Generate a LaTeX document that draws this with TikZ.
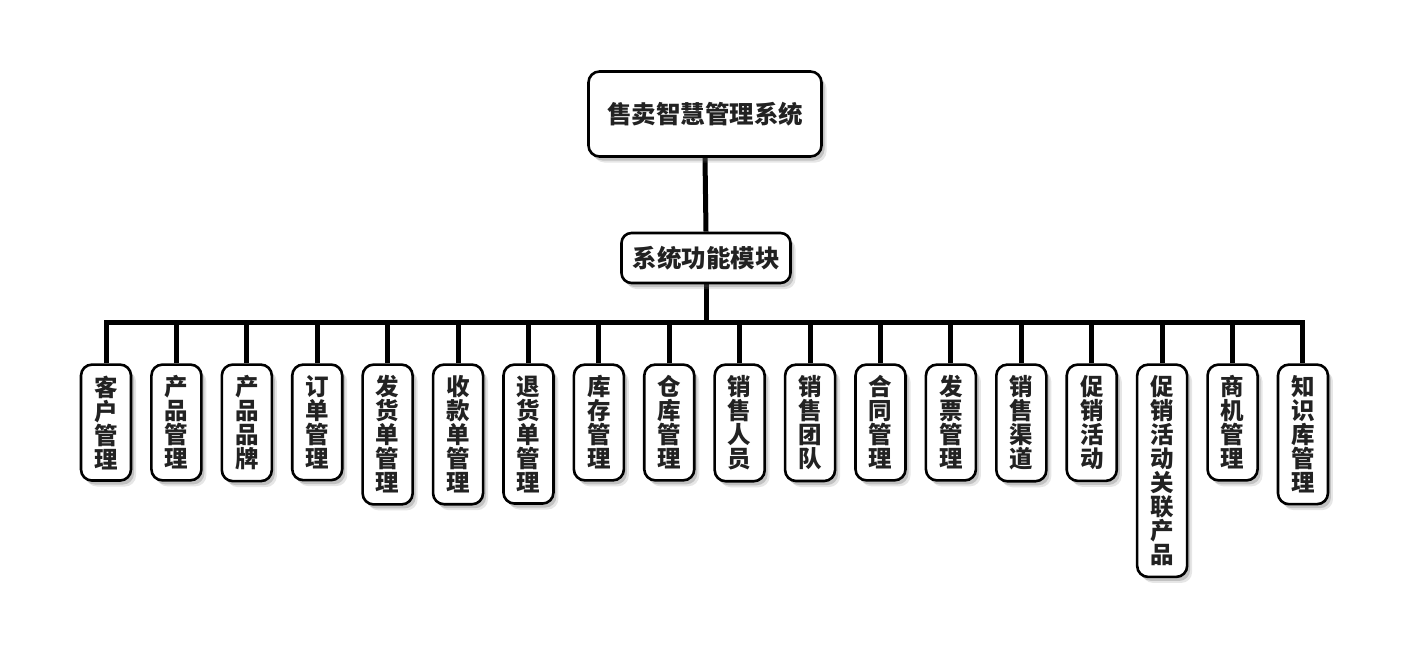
\documentclass[tikz,border=0pt]{standalone}
\usepackage{fontspec}
\newfontfamily\cjk{Noto Sans CJK SC}
\usetikzlibrary{shadows,backgrounds}
\definecolor{txt}{HTML}{222222}
\begin{document}
\begin{tikzpicture}[x=1pt,y=-1pt,
 box/.style={draw=black, line width=2.6pt, rounded corners=11pt, fill=white, text=txt,
   font=\cjk\bfseries\fontsize{24.5}{24}\selectfont,
   drop shadow={shadow xshift=3pt,shadow yshift=-4pt,opacity=0.25,fill=black!70},
   drop shadow={shadow xshift=5pt,shadow yshift=-6pt,opacity=0.2,fill=black!50}},
 topbox/.style={box, minimum width=233pt, minimum height=85pt, inner sep=0pt},
 midbox/.style={box, minimum width=169pt, minimum height=50pt, inner sep=0pt, rounded corners=10pt},
 leaf/.style={box, font=\cjk\bfseries\fontsize{23.5}{24}\selectfont, align=center,
   text width=24pt, inner xsep=0pt, minimum width=50pt, inner ysep=11pt, anchor=north},
 conn/.style={line width=5pt, line join=miter}]
\useasboundingbox (0,0) rectangle (1409,656);
\node[topbox] (t) at (705,114) {售卖智慧管理系统};
\node[midbox] (m) at (706,258) {系统功能模块};
\coordinate (bus) at (705,322);
\foreach \txt [count=\i] in {
 {客\\户\\管\\理},{产\\品\\管\\理},{产\\品\\品\\牌},{订\\单\\管\\理},
 {发\\货\\单\\管\\理},{收\\款\\单\\管\\理},{退\\货\\单\\管\\理},
 {库\\存\\管\\理},{仓\\库\\管\\理},{销\\售\\人\\员},{销\\售\\团\\队},
 {合\\同\\管\\理},{发\\票\\管\\理},{销\\售\\渠\\道},{促\\销\\活\\动},
 {促\\销\\活\\动\\关\\联\\产\\品},{商\\机\\管\\理},{知\\识\\库\\管\\理}}
{
 \node[leaf] (l\i) at ({106+70.41*(\i-1)},363.3) {\txt};
}
\begin{scope}[on background layer]
 \draw[conn] (t.south) -- (m.north);
 \draw[conn] (m.south) -- (m.south |- bus);
 \draw[conn] (l1.north) -- (l1.north |- bus) -- (l18.north |- bus) -- (l18.north);
 \foreach \i in {2,...,17} {
  \draw[conn] (l\i.north) -- (l\i.north |- bus);
 }
\end{scope}
\end{tikzpicture}
\end{document}
